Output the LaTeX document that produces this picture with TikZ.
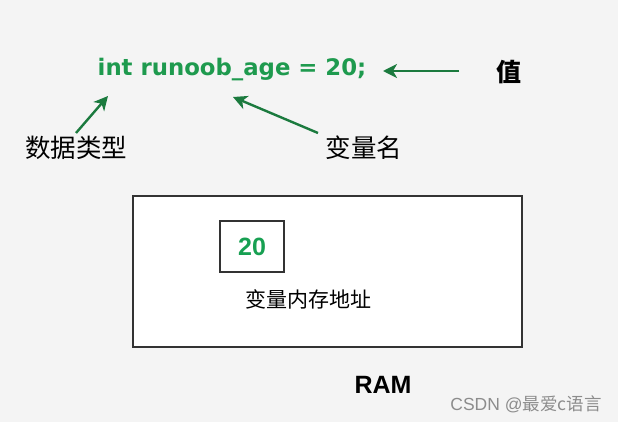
\documentclass[tikz,border=0pt]{standalone}
\usepackage{fontspec}
\usetikzlibrary{arrows.meta}
\setmainfont{Liberation Sans}
\newfontfamily\cjk{Noto Sans CJK SC}
\newfontfamily\codefont{DejaVu Sans}
\definecolor{bgc}{HTML}{F4F4F4}
\definecolor{codegreen}{HTML}{1E9A4E}
\definecolor{arrowgreen}{HTML}{1B7A3E}
\definecolor{numgreen}{HTML}{17A052}
\definecolor{boxline}{HTML}{333333}
\tikzset{
  lbl/.style={inner sep=0pt, anchor=center},
  garrow/.style={draw=arrowgreen, line width=2.4pt, -{Stealth[length=14pt,width=14pt,inset=4pt]}},
  ramrect/.style={draw=boxline, line width=2pt, fill=white},
}
\begin{document}
\begin{tikzpicture}[x=1pt,y=-1pt]
\fill[bgc] (0,0) rectangle (618,422);
\useasboundingbox (0,0) rectangle (618,422);
% code line
\node[inner sep=0pt, anchor=base, text=codegreen] (code) at (232,76) {\codefont\bfseries\fontsize{22.8}{26}\selectfont int runoob\_age = 20;};
% labels
\node[lbl] (type) at (76,148) {\cjk\fontsize{25.5}{28}\selectfont 数据类型};
\node[lbl] (name) at (364,148) {\cjk\fontsize{25.5}{28}\selectfont 变量名};
\node[lbl] (val) at (509,72) {\cjk\bfseries\fontsize{25}{28}\selectfont 值};
% arrow anchors
\coordinate (t1) at (108,96);
\coordinate (t2) at (233,97);
\coordinate (t3) at (383,71);
\coordinate (s1) at (76,133);
\coordinate (s2) at (318,133);
\coordinate (s3) at (459,71);
\draw[garrow] (s1) -- (t1);
\draw[garrow] (s2) -- (t2);
\draw[garrow] (s3) -- (t3);
% RAM
\node[ramrect, minimum width=389pt, minimum height=151pt, inner sep=0pt] (ram) at (327.5,271.5) {};
\node[draw=boxline, line width=2pt, fill=white, minimum width=64pt, minimum height=51pt, inner sep=0pt] (cell) at (252,246.5) {};
\node[lbl, text=numgreen] (num) at (252,246.5) {\fontsize{25}{28}\selectfont\bfseries 20};
\node[lbl] (addr) at (308,299) {\cjk\fontsize{21}{24}\selectfont 变量内存地址};
\node[lbl] (ramlbl) at (383,385) {\bfseries\fontsize{25}{28}\selectfont RAM};
\node[lbl, text=black!45] (wm) at (526,404) {\fontsize{17.5}{20}\selectfont CSDN @{\cjk 最爱c语言}};
\end{tikzpicture}
\end{document}
